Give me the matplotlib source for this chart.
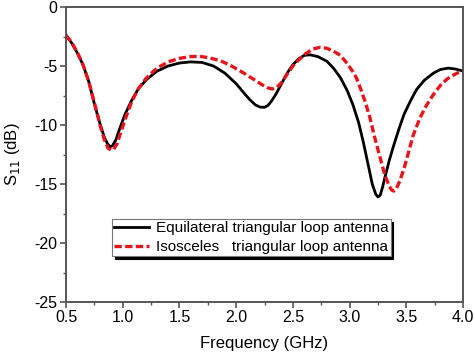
import matplotlib
matplotlib.use("Agg")
import matplotlib.pyplot as plt
from matplotlib.ticker import MultipleLocator

plt.rcParams['font.family'] = ['Liberation Sans', 'DejaVu Sans']

freq_eq = [0.50, 0.55, 0.60, 0.65, 0.70, 0.75, 0.80, 0.84, 0.87, 0.89, 0.91, 0.94, 0.97, 1.02, 1.08, 1.14,
           1.21, 1.30, 1.40, 1.50, 1.60, 1.70, 1.80, 1.90, 2.00, 2.07, 2.12, 2.17, 2.21, 2.25, 2.28, 2.31,
           2.35, 2.40, 2.45, 2.50, 2.55, 2.60, 2.65, 2.72, 2.80, 2.86, 2.92, 2.98, 3.03, 3.08,
           3.12, 3.16, 3.20, 3.23, 3.25, 3.27, 3.29, 3.31, 3.35, 3.39, 3.44, 3.48, 3.54, 3.59, 3.66,
           3.74, 3.80, 3.87, 3.93, 4.00]
s11_eq = [-2.4, -3.05, -3.9, -4.9, -6.3, -8.2, -9.9, -11.1, -11.65, -11.85, -11.75, -11.25, -10.4, -9.1, -7.9, -6.9,
          -6.15, -5.45, -5.0, -4.75, -4.65, -4.7, -5.0, -5.6, -6.5, -7.3, -7.85, -8.3, -8.48, -8.5, -8.35, -8.0,
          -7.4, -6.5, -5.6, -4.9, -4.4, -4.1, -4.05, -4.2, -4.6, -5.2, -6.0, -7.1, -8.3, -9.8,
          -11.4, -13.2, -15.0, -15.85, -16.1, -15.95, -15.3, -14.5, -13.0, -11.7, -10.2, -9.1, -7.9, -7.0, -6.2,
          -5.6, -5.3, -5.18, -5.25, -5.42]

freq_iso = [0.50, 0.55, 0.60, 0.65, 0.70, 0.75, 0.80, 0.84, 0.87, 0.90, 0.92, 0.95, 0.98, 1.03, 1.08, 1.14,
            1.21, 1.30, 1.40, 1.50, 1.60, 1.68, 1.76, 1.86, 1.95, 2.05, 2.15, 2.23, 2.28, 2.32, 2.36,
            2.40, 2.45, 2.50, 2.56, 2.62, 2.68, 2.74, 2.80, 2.86, 2.92, 2.98, 3.03, 3.06, 3.10,
            3.14, 3.18, 3.22, 3.27, 3.31, 3.35, 3.37, 3.39, 3.41, 3.44, 3.48, 3.52, 3.56, 3.62, 3.68, 3.74,
            3.80, 3.86, 3.92, 3.96, 4.00]
s11_iso = [-2.4, -3.0, -3.85, -4.9, -6.3, -8.1, -10.0, -11.3, -11.95, -12.15, -12.05, -11.6, -10.7, -9.3, -8.0, -6.9,
           -6.0, -5.2, -4.65, -4.35, -4.2, -4.18, -4.3, -4.55, -4.95, -5.5, -6.1, -6.6, -6.85, -6.95, -6.8,
           -6.4, -5.7, -5.0, -4.4, -3.9, -3.55, -3.42, -3.5, -3.75, -4.1, -4.8, -5.5, -6.0, -7.0,
           -8.1, -9.4, -11.0, -12.8, -14.2, -15.2, -15.5, -15.6, -15.45, -14.8, -13.7, -12.3, -10.9, -9.4, -8.3, -7.4,
           -6.65, -6.1, -5.75, -5.55, -5.42]

labels = ["Equilateral triangular loop antenna", "Isosceles   triangular loop antenna"]
xticks = [0.5, 1.0, 1.5, 2.0, 2.5, 3.0, 3.5, 4.0]
yticks = [0, -5, -10, -15, -20, -25]

fig = plt.figure(figsize=(4.74, 3.55), dpi=100)
ax = fig.add_axes([66/474, 1 - 302/355, (463-66)/474, (302-7)/355])

ax.plot(freq_eq, s11_eq, color='black', lw=2.0, label=labels[0])
ax.plot(freq_iso, s11_iso, color='#e8141c', lw=2.4, ls=(0, (2.2, 1.0)), label=labels[1])

ax.set_xlim(0.5, 4.0)
ax.set_ylim(-25, 0)
ax.set_xticks(xticks)
ax.set_xticklabels([f"{t:.1f}" for t in xticks])
ax.set_yticks(yticks)
ax.set_yticklabels([f"{t:d}" for t in yticks])
ax.xaxis.set_minor_locator(MultipleLocator(0.25))
ax.yaxis.set_minor_locator(MultipleLocator(2.5))
ax.tick_params(which='both', direction='out', top=False, right=False, color='#555555', labelsize=11.5, pad=2)
ax.tick_params(which='major', length=4, width=1.2)
ax.tick_params(which='minor', length=2.5, width=1.0)
for sp in ax.spines.values():
    sp.set_color('#555555')
    sp.set_linewidth(1.4)

ax.set_xlabel("Frequency (GHz)", fontsize=12, labelpad=8)
ax.set_ylabel("S$_{11}$ (dB)", fontsize=12, labelpad=9)

leg = ax.legend(loc='upper left', bbox_to_anchor=(0.116, 0.281), borderaxespad=0,
                fancybox=False, shadow={'color': 'black', 'alpha': 1.0}, framealpha=1,
                edgecolor='#777777', fontsize=11, handlelength=2.3, handletextpad=0.4,
                borderpad=0.15, labelspacing=0.3)
leg.get_frame().set_linewidth(0.8)

fig.savefig("out.png", dpi=100)
